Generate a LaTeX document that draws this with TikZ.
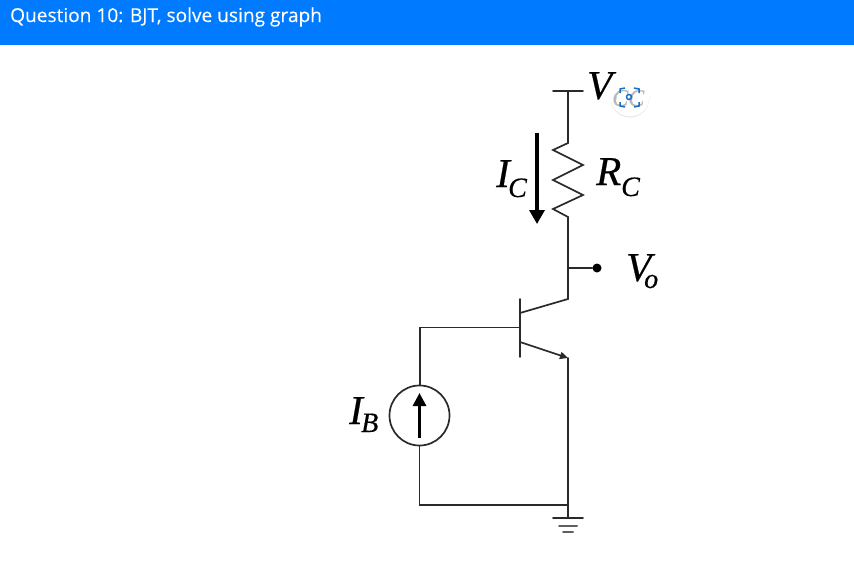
\documentclass[tikz,border=0pt]{standalone}
\usepackage{fontspec}
\setmainfont{Liberation Serif}[ItalicFeatures={FakeBold=0.5}]
\newfontfamily\headfont{Open Sans}[FakeBold=0.15]
\usetikzlibrary{arrows.meta,shadows}
\definecolor{headblue}{HTML}{007BFF}
\definecolor{wirecol}{HTML}{2A2A2A}
\definecolor{scanblue}{HTML}{1A6FC4}
\tikzset{
  wire/.style={draw=wirecol,line width=1.7pt,line cap=round,line join=miter},
  lab/.style={inner sep=0pt,font=\fontsize{41}{41}\selectfont\itshape},
  sub/.style={inner sep=0pt,font=\fontsize{28}{28}\selectfont\itshape},
  scanmark/.style={draw=scanblue,line width=1.5pt}
}
\begin{document}
\begin{tikzpicture}[x=1pt,y=-1pt]
\useasboundingbox (0,0) rectangle (854,565);
\fill[white] (0,0) rectangle (854,565);
\fill[headblue] (0,0) rectangle (854,44.5);
\node[anchor=base west,inner sep=0pt,text=white,font=\headfont\fontsize{19.1}{21}\selectfont] (title) at (10,22) {Question 10: BJT, solve using graph};
% coordinates
\coordinate (vcc) at (568,91);
\coordinate (vccL) at (553,91);
\coordinate (vccR) at (583,91);
\coordinate (rtop) at (568,143);
\coordinate (rbot) at (568,217);
\coordinate (cTurn) at (568,299);
\coordinate (vojunc) at (568,268);
\coordinate (colB) at (520,313);
\coordinate (barT) at (520,299);
\coordinate (barB) at (520,357);
\coordinate (baseB) at (520,327.5);
\coordinate (baseL) at (420,327.5);
\coordinate (emB) at (520,342);
\coordinate (emE) at (568,358);
\coordinate (gnd) at (568,505);
\coordinate (botL) at (420,505);
\coordinate (g1) at (568,518);
\coordinate (g1L) at (553,518);
\coordinate (g1R) at (583,518);
\coordinate (g2L) at (559,526);
\coordinate (g2R) at (577,526);
\coordinate (g3L) at (563,532);
\coordinate (g3R) at (573,532);
\coordinate (icT) at (537,133);
\coordinate (icB) at (537,224);
\coordinate (ibB) at (419.5,438);
\coordinate (ibT) at (419.5,393);
% source
\node[circle,draw=wirecol,line width=1.7pt,minimum size=60pt,inner sep=0pt] (src) at (419.5,415.5) {};
\node[circle,fill=black,minimum size=9pt,inner sep=0pt] (vodot) at (597,268) {};
% wires
\draw[wire] (vccL) -- (vccR);
\draw[wire] (vcc) -- (rtop) -- (553,150) -- (583,165) -- (553,180) -- (583,195) -- (553,209) -- (rbot) -- (cTurn) -- (colB);
\draw[wire] (vojunc) -- (vodot);
\draw[wire] (barT) -- (barB);
\draw[wire] (baseB) -- (baseL) -- (baseL |- src.north);
\draw[wire,-{Triangle[length=8pt,width=7pt]}] (emB) -- (emE);
\draw[wire] (emE) -- (g1);
\draw[wire] (src.south) -- (src.south |- botL) -- (gnd);
\draw[wire] (g1L) -- (g1R);
\draw[wire,line width=2pt,draw=wirecol!75] (g2L) -- (g2R);
\draw[wire,line width=2pt,draw=wirecol!75] (g3L) -- (g3R);
\draw[draw=black,line width=3.4pt,-{Triangle[length=14pt,width=15pt]}] (icT) -- (icB);
\draw[draw=black,line width=3pt,-{Triangle[length=13pt,width=13pt]}] (ibB) -- (ibT);
% labels
\node[lab,anchor=base west] (vcclab) at (587,99) {V};
\node[lab,anchor=base west] (iclab) at (496,187) {I};
\node[sub,anchor=base west] (icsub) at (508,197) {C};
\node[lab,anchor=base west] (rclab) at (596,185) {R};
\node[sub,anchor=base west] (rcsub) at (621,196) {C};
\node[lab,anchor=base west] (volab) at (626,281) {V};
\node[sub,anchor=base west] (vosub) at (644,288) {o};
\node[lab,anchor=base west] (iblab) at (349,424) {I};
\node[sub,anchor=base west] (ibsub) at (361,432) {B};
% scan badge, with the subscript showing through it
\node[circle,fill=white,drop shadow={opacity=0.2,shadow xshift=0pt,shadow yshift=-1pt},minimum size=39pt,inner sep=0pt] (badge) at (630,97) {};
\node[anchor=base west,inner sep=0pt,font=\fontsize{24}{24}\selectfont\itshape,text=gray!55] (vccsub) at (612,106) {CC};
\draw[scanmark] (620,93) -- (620,89) -- (625,88);
\draw[scanmark] (634,88) -- (639,89) -- (639,93);
\draw[scanmark] (620,102) -- (620,106) -- (625,107);
\draw[scanmark] (634,107) -- (639,106) -- (639,102);
\node[circle,draw=scanblue,line width=1.5pt,minimum size=5pt,inner sep=0pt] (scandot) at (629,97) {};
\end{tikzpicture}
\end{document}
